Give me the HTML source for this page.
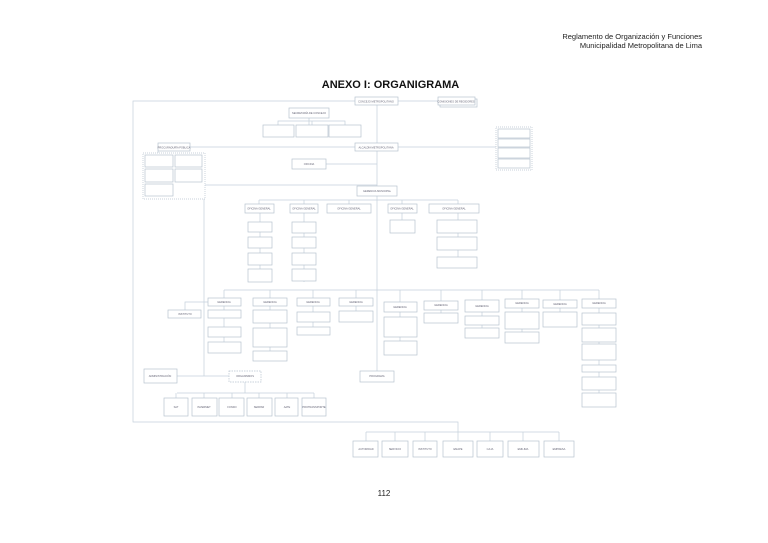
<!DOCTYPE html>
<html><head><meta charset="utf-8"><style>
html,body{margin:0;padding:0;background:#fff;}
body{width:768px;height:543px;overflow:hidden;position:relative;font-family:"Liberation Sans",sans-serif;}
.h{position:absolute;right:66px;font-size:7.5px;color:#222;text-align:right;}
</style></head><body>
<div class="h" style="top:32px">Reglamento de Organización y Funciones</div>
<div class="h" style="top:41px">Municipalidad Metropolitana de Lima</div>
<div style="position:absolute;left:0;width:781px;top:79px;text-align:center;font-weight:bold;font-size:11px;color:#111">ANEXO I: ORGANIGRAMA</div>
<div style="position:absolute;left:0;width:768px;top:489px;text-align:center;font-size:8px;color:#222">112</div>
<svg width="768" height="543" style="position:absolute;left:0;top:0" xmlns="http://www.w3.org/2000/svg">
<g stroke="#c5d0db" stroke-width="0.7" fill="none">
<!-- lines -->
<path d="M355 101H133V422H458V432M366 432H559M398 101H438"/>
<path d="M377 105V186M377 196V290M309 118V125M278 125V121H345V125M312 121V125"/>
<path d="M190 147H355M398 147H498M326 164H377M204 196V376M204 185H377M177 376H229M245 382V393M177 393H314M176 393V398M204 393V398M232 393V398M259 393V398M287 393V398M314 393V398"/>
<path d="M259 200H458M259 200V204M304 200V204M349 200V204M402 200V204M458 200V204M260 213V282M304 213V282M402 213V220M458 213V268"/>
<path d="M224 290H599M224 290V298M270 290V298M313 290V298M356 290V298M400 290V302M441 290V301M482 290V300M522 290V299M560 290V300M599 290V299"/>
<path d="M224 306V353M270 306V361M313 306V335M356 306V311M400 312V355M441 310V313M482 312V338M522 308V343M560 308V312M599 308V407M208 302H185V310"/>
<path d="M377 290V371M366 432V441M395 432V441M425 432V441M458 432V441M490 432V441M523 432V441M559 432V441"/>
<path d="M514 138V129M158 151V155"/>
</g>
<g stroke="#b7c3cf" stroke-width="0.7" fill="#fff">
<rect x="355" y="97" width="43" height="8"/>
<rect x="440" y="99" width="37" height="8"/><rect x="438" y="97" width="37" height="8"/>
<rect x="289" y="108" width="40" height="10"/>
<rect x="263" y="125" width="31" height="12"/><rect x="296" y="125" width="32" height="12"/><rect x="329" y="125" width="32" height="12"/>
<rect x="355" y="143" width="43" height="8"/>
<rect x="158" y="143" width="32" height="8"/>
<rect x="143" y="153" width="62" height="46" stroke-dasharray="1 1"/>
<rect x="145" y="155" width="28" height="12"/><rect x="175" y="155" width="27" height="12"/>
<rect x="145" y="169" width="28" height="13"/><rect x="175" y="169" width="27" height="13"/>
<rect x="145" y="184" width="28" height="12"/>
<rect x="496" y="127" width="36" height="43" stroke-dasharray="1 1"/>
<rect x="498" y="129" width="32" height="9"/><rect x="498" y="139" width="32" height="8"/><rect x="498" y="148" width="32" height="10"/><rect x="498" y="159" width="32" height="9"/>
<rect x="292" y="159" width="34" height="10"/>
<rect x="357" y="186" width="40" height="10"/>
<rect x="245" y="204" width="29" height="9"/><rect x="290" y="204" width="28" height="9"/><rect x="327" y="204" width="44" height="9"/><rect x="388" y="204" width="29" height="9"/><rect x="429" y="204" width="50" height="9"/>
<rect x="248" y="222" width="24" height="10"/><rect x="248" y="237" width="24" height="11"/><rect x="248" y="253" width="24" height="12"/><rect x="248" y="269" width="24" height="13"/>
<rect x="292" y="222" width="24" height="11"/><rect x="292" y="237" width="24" height="11"/><rect x="292" y="253" width="24" height="12"/><rect x="292" y="269" width="24" height="12"/>
<rect x="390" y="220" width="25" height="13"/>
<rect x="437" y="220" width="40" height="13"/><rect x="437" y="237" width="40" height="13"/><rect x="437" y="257" width="40" height="11"/>
<rect x="208" y="298" width="33" height="8"/><rect x="208" y="310" width="33" height="8"/><rect x="208" y="327" width="33" height="10"/><rect x="208" y="342" width="33" height="11"/>
<rect x="168" y="310" width="33" height="8"/>
<rect x="253" y="298" width="34" height="8"/><rect x="253" y="310" width="34" height="13"/><rect x="253" y="328" width="34" height="19"/><rect x="253" y="351" width="34" height="10"/>
<rect x="297" y="298" width="33" height="8"/><rect x="297" y="312" width="33" height="10"/><rect x="297" y="327" width="33" height="8"/>
<rect x="339" y="298" width="34" height="8"/><rect x="339" y="311" width="34" height="11"/>
<rect x="384" y="302" width="33" height="10"/><rect x="384" y="317" width="33" height="20"/><rect x="384" y="341" width="33" height="14"/>
<rect x="424" y="301" width="34" height="9"/><rect x="424" y="313" width="34" height="10"/>
<rect x="465" y="300" width="34" height="12"/><rect x="465" y="316" width="34" height="9"/><rect x="465" y="328" width="34" height="10"/>
<rect x="505" y="299" width="34" height="9"/><rect x="505" y="312" width="34" height="17"/><rect x="505" y="332" width="34" height="11"/>
<rect x="543" y="300" width="34" height="8"/><rect x="543" y="312" width="34" height="15"/>
<rect x="582" y="299" width="34" height="9"/><rect x="582" y="313" width="34" height="12"/><rect x="582" y="328" width="34" height="14"/><rect x="582" y="344" width="34" height="16"/><rect x="582" y="365" width="34" height="7"/><rect x="582" y="377" width="34" height="13"/><rect x="582" y="393" width="34" height="14"/>
<rect x="360" y="371" width="34" height="11"/>
<rect x="144" y="369" width="33" height="14"/>
<rect x="229" y="371" width="32" height="11" stroke-dasharray="1.5 1"/>
<rect x="164" y="398" width="24" height="18"/><rect x="192" y="398" width="25" height="18"/><rect x="219" y="398" width="25" height="18"/><rect x="247" y="398" width="25" height="18"/><rect x="275" y="398" width="23" height="18"/><rect x="302" y="398" width="24" height="18"/>
<rect x="353" y="441" width="25" height="16"/><rect x="382" y="441" width="26" height="16"/><rect x="413" y="441" width="24" height="16"/><rect x="443" y="441" width="30" height="16"/><rect x="477" y="441" width="26" height="16"/><rect x="508" y="441" width="31" height="16"/><rect x="544" y="441" width="30" height="16"/>
</g>
<g font-family="Liberation Sans, sans-serif" font-size="2.6" fill="#667" text-anchor="middle">
<text x="376" y="102.5">CONCEJO METROPOLITANO</text>
<text x="456" y="102.5">COMISIONES DE REGIDORES</text>
<text x="376" y="148.5">ALCALDÍA METROPOLITANA</text>
<text x="174" y="148.5">PROCURADURÍA PÚBLICA</text>
<text x="309" y="114">SECRETARÍA DE CONCEJO</text>
<text x="377" y="192">GERENCIA MUNICIPAL</text>
<text x="309" y="165">OFICINA</text>
<text x="259" y="209.5">OFICINA GENERAL</text><text x="304" y="209.5">OFICINA GENERAL</text><text x="349" y="209.5">OFICINA GENERAL</text><text x="402" y="209.5">OFICINA GENERAL</text><text x="454" y="209.5">OFICINA GENERAL</text>
<text x="224" y="303">GERENCIA</text><text x="270" y="303">GERENCIA</text><text x="313" y="303">GERENCIA</text><text x="356" y="303">GERENCIA</text><text x="400" y="308">GERENCIA</text><text x="441" y="306">GERENCIA</text><text x="482" y="307">GERENCIA</text><text x="522" y="304">GERENCIA</text><text x="560" y="305">GERENCIA</text><text x="599" y="304">GERENCIA</text>
<text x="185" y="315">INSTITUTO</text>
<text x="377" y="377">PROGRAMA</text>
<text x="160" y="377">ADMINISTRACIÓN</text>
<text x="245" y="377">ORGANISMOS</text>
<text x="176" y="408">SAT</text><text x="204" y="408">INVERMET</text><text x="232" y="408">FONDO</text><text x="259" y="408">SERPAR</text><text x="287" y="408">AATE</text><text x="314" y="408">PROTRANSPORTE</text>
<text x="366" y="450">AUTORIDAD</text><text x="395" y="450">SERVICIO</text><text x="425" y="450">INSTITUTO</text><text x="458" y="450">EMAPE</text><text x="490" y="450">CAJA</text><text x="523" y="450">EMILIMA</text><text x="559" y="450">EMPRESA</text>
</g>
</svg>
</body></html>
